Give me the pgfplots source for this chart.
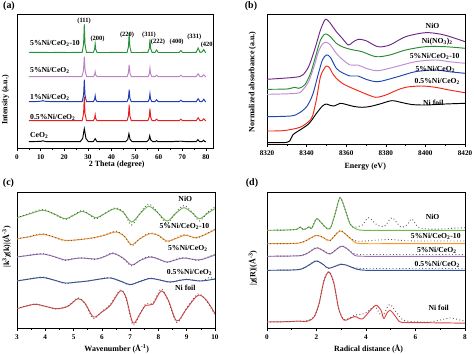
\documentclass[border=0pt]{standalone}
\usepackage{fontspec}
\setmainfont{Liberation Serif}
\usepackage{pgfplots}
\pgfplotsset{compat=1.18}
\definecolor{ag}{RGB}{40,145,60}
\definecolor{av}{RGB}{190,130,200}
\definecolor{ab}{RGB}{30,60,180}
\definecolor{ar}{RGB}{230,30,30}
\definecolor{bp}{RGB}{110,40,140}
\definecolor{bg}{RGB}{40,140,50}
\definecolor{bv}{RGB}{190,140,210}
\definecolor{bb}{RGB}{30,70,180}
\definecolor{br}{RGB}{240,40,20}
\definecolor{cg}{RGB}{110,185,80}
\definecolor{co}{RGB}{250,150,40}
\definecolor{cv}{RGB}{160,110,190}
\definecolor{cb}{RGB}{50,80,160}
\definecolor{cr}{RGB}{225,70,70}
\pgfplotsset{
 panel/.style={scale only axis, anchor=south west,
   axis line style={line width=0.8pt}, ytick=\empty, xtick pos=bottom,
   tick align=outside, major tick length=3bp, minor tick length=1.6bp,
   minor x tick num=1, tick style={line width=0.6pt, black},
   tick label style={font=\fontsize{7.2}{8}\selectfont\bfseries},
   label style={font=\fontsize{8}{9}\selectfont\bfseries},
   /pgf/number format/assume math mode=true,
   /pgf/number format/set thousands separator={},
   every axis plot/.append style={line width=0.95pt}},
 dots/.style={black!65, line width=0.9pt, dash pattern=on 0.9pt off 2.4pt, smooth}
}
\tikzset{lbl/.style={font=\fontsize{7.7}{8}\selectfont\bfseries, inner sep=0pt},
 pk/.style={font=\fontsize{6.5}{7}\selectfont\bfseries, inner sep=0pt},
 plet/.style={font=\fontsize{10}{11}\selectfont\bfseries, inner sep=0pt}}
\begin{document}
\begin{tikzpicture}
\path[use as bounding box] (0,0) rectangle (474bp,354bp);
% ---------------- (a)
\begin{axis}[panel, at={(17bp,206bp)}, width=196bp, height=134bp,
  xmin=0, xmax=83, ymin=4, ymax=138, xtick={0,10,...,80},
  xlabel={2 Theta (degree)}, ylabel={Intensity (a.u.)},
  xlabel style={at={(axis description cs:0.509,-0.127)}, anchor=center},
  ylabel style={at={(axis description cs:-0.059,0.358)}, anchor=center}]
\addplot[black] coordinates {(5,10.3)(8,10.5)(10,10.6)(11,11.2)(12,10.5)(15,10.3)(20,10.4)(24,10.3)(26.8,10.4)(27.8,13.5)(28.5,23.3)(29.2,13.5)(30.2,10.4)(32.3,10.3)(33.1,13.3)(33.9,10.3)(38,10.3)(42,10.4)(46,10.3)(46.9,12.5)(47.4,18.3)(47.9,12.5)(48.8,10.3)(52,10.3)(54.9,10.3)(55.8,12.2)(56.2,16.3)(56.6,12.2)(57.5,10.3)(58.5,10.3)(59.1,11.3)(59.7,10.3)(65,10.3)(69.4,10.8)(72,10.3)(75.9,10.4)(76.6,12.3)(77.3,10.4)(78.4,10.4)(79,11.8)(79.6,10.3)(80,10.3)};
\addplot[ar] coordinates {(5,31.3)(9,31.4)(13,31.3)(18,31.4)(23,31.3)(27.6,31.4)(28.2,38.5)(28.5,55.3)(28.8,38.5)(29.4,31.4)(32.3,31.3)(32.85,33.4)(33.1,37.3)(33.35,33.4)(33.9,31.3)(40,31.3)(46.6,31.3)(47.2,36.1)(47.5,47.3)(47.8,36.1)(48.4,31.3)(52,31.4)(55.4,31.3)(56.0,34.9)(56.3,43.3)(56.6,34.9)(57.2,31.3)(58.4,31.3)(59.1,32.8)(59.8,31.3)(65,31.3)(68.7,31.3)(69.4,32.8)(70.1,31.3)(74,31.3)(75.9,31.3)(76.7,34.3)(77.5,31.3)(78.4,31.5)(79.1,33.3)(79.8,31.3)(80,31.3)};
\addplot[ab] coordinates {(5,50.3)(8,50.4)(10.5,50.9)(11,51.5)(11.5,50.8)(15,50.3)(20,50.4)(25,50.3)(27.6,50.4)(28.2,56.9)(28.5,72.3)(28.8,56.9)(29.4,50.4)(32.3,50.3)(32.85,52.4)(33.1,56.3)(33.35,52.4)(33.9,50.3)(40,50.3)(46.6,50.3)(47.2,53.9)(47.5,62.3)(47.8,53.9)(48.4,50.3)(52,50.4)(55.5,50.3)(56.05,53.1)(56.3,58.3)(56.55,53.1)(57.1,50.3)(58.4,50.3)(59.1,52.3)(59.8,50.3)(65,50.3)(68.7,50.3)(69.4,51.8)(70.1,50.3)(74,50.3)(75.9,50.3)(76.7,53.3)(77.5,50.3)(78.4,50.5)(79.1,52.8)(79.8,50.3)(80,50.3)};
\addplot[av] coordinates {(5,75.3)(10,75.4)(15,75.3)(20,75.4)(25,75.3)(27.5,75.4)(28.15,81.3)(28.5,95.3)(28.85,81.3)(29.5,75.4)(32.3,75.3)(32.85,77.1)(33.1,80.3)(33.35,77.1)(33.9,75.3)(40,75.3)(46.6,75.3)(47.15,78.9)(47.5,87.3)(47.85,78.9)(48.4,75.3)(52,75.4)(55.5,75.3)(56.05,78.3)(56.3,83.8)(56.55,78.3)(57.1,75.3)(58.4,75.3)(59.1,76.8)(59.8,75.3)(65,75.3)(68.7,75.3)(69.4,76.8)(70.1,75.3)(74,75.3)(75.9,75.3)(76.7,78.3)(77.5,75.3)(78.4,75.5)(79.1,77.3)(79.8,75.3)(80,75.3)};
\addplot[ag] coordinates {(5,99.5)(8,99.7)(11,99.6)(14,99.5)(18,99.6)(22,99.5)(26,99.6)(27.6,99.6)(28.2,107.9)(28.5,127.5)(28.8,107.9)(29.4,99.6)(32.3,99.5)(32.85,102.7)(33.1,108.5)(33.35,102.7)(33.9,99.5)(38,99.5)(42,99.6)(46.6,99.5)(47.2,105.2)(47.5,118.5)(47.8,105.2)(48.4,99.5)(52,99.5)(55.4,99.6)(56.0,103.4)(56.3,112.5)(56.6,103.4)(57.2,99.6)(58.4,99.5)(59.1,102)(59.8,99.5)(64,99.5)(68.7,99.5)(69.4,101.5)(70.1,99.5)(74,99.5)(75.9,99.6)(76.7,104)(77.5,99.6)(78.4,100)(79.1,102.5)(79.8,99.6)(80,99.5)};
\node[lbl, anchor=west] at (axis cs:5.5,108.7) {5\%Ni/CeO\textsubscript{2}-10};
\node[lbl, anchor=west] at (axis cs:5.5,82) {5\%Ni/CeO\textsubscript{2}};
\node[lbl, anchor=west] at (axis cs:5.5,54.7) {1\%Ni/CeO\textsubscript{2}};
\node[lbl, anchor=west] at (axis cs:5.5,34.7) {0.5\%Ni/CeO\textsubscript{2}};
\node[lbl, anchor=west] at (axis cs:5.5,17) {CeO\textsubscript{2}};
\node[pk] at (axis cs:28.4,131) {(111)};
\node[pk] at (axis cs:34.1,112.7) {(200)};
\node[pk] at (axis cs:46.6,117) {(220)};
\node[pk] at (axis cs:55.9,117) {(311)};
\node[pk] at (axis cs:59.7,109.7) {(222)};
\node[pk] at (axis cs:67.6,109.7) {(400)};
\node[pk] at (axis cs:75.1,114.7) {(331)};
\node[pk] at (axis cs:80.8,107) {(420)};
\end{axis}
% ---------------- (b)
\begin{axis}[panel, at={(267bp,210bp)}, width=198bp, height=130bp,
  xmin=8320, xmax=8420, ymin=0, ymax=130, xtick={8320,8340,...,8420},
  xlabel={Energy (eV)}, ylabel={Normalized absorbance (a.u.)},
  xlabel style={at={(axis description cs:0.496,-0.175)}, anchor=center},
  ylabel style={at={(axis description cs:-0.073,0.477)}, anchor=center}]
\addplot[black, smooth] coordinates {(8320,1.3)(8326,1.3)(8330,1.6)(8331.5,3)(8333,9)(8335,12)(8338,15.7)(8341,20)(8343,25)(8345,30.7)(8348,38)(8350,40)(8352,38.5)(8354,38)(8357,40.7)(8360,39.5)(8364,37.5)(8368,36.7)(8372,37.5)(8377,40)(8383,43.3)(8388,41.5)(8393,39.5)(8400,39)(8410,40)(8420,40.7)};
\addplot[br, smooth] coordinates {(8320,13)(8328,13.3)(8335,15.7)(8338,18)(8341,22.3)(8343,28)(8345,45)(8347,67.3)(8349,75.7)(8350,78)(8351.5,76.5)(8353,71)(8355,65.7)(8358,60.7)(8362,56.7)(8366,53.3)(8370,50)(8375,46.7)(8380,49)(8385,53.3)(8390,56.7)(8398,58)(8405,56.7)(8412,54)(8420,51.3)};
\addplot[bb, smooth] coordinates {(8320,27.3)(8332,28)(8336,30.7)(8340,37.3)(8343,49)(8346,70.7)(8348,84)(8350,89)(8352,86.7)(8355,75.7)(8358,71.3)(8362,68)(8366,68)(8370,64.7)(8376,62.3)(8385,66.7)(8395,72.3)(8405,74)(8412,72.3)(8420,70.7)};
\addplot[bv, smooth] coordinates {(8320,49.7)(8335,50.7)(8338,54)(8341,62.3)(8344,79)(8346,92.3)(8348,100)(8350,101.7)(8352,99)(8355,90.7)(8358,84.7)(8362,79)(8366,79)(8370,75.7)(8376,73.3)(8385,77.3)(8395,82.3)(8405,84)(8412,82.3)(8420,80.7)};
\addplot[bg, smooth] coordinates {(8320,54.7)(8330,55)(8334,56.7)(8336,55.7)(8339,59)(8342,70.7)(8345,90.7)(8347,104)(8349,109.7)(8350,110)(8352,107.3)(8355,100.7)(8358,97.3)(8362,94.7)(8368,92.3)(8375,87.3)(8382,89)(8390,94)(8400,97.3)(8410,97.3)(8420,95.7)};
\addplot[bp, smooth] coordinates {(8320,64.7)(8334,66.7)(8338,69)(8341,77.3)(8344,94)(8347,114)(8349,123.3)(8350,124.7)(8352,120.7)(8355,112.3)(8358,105.7)(8361,99)(8363,101.3)(8366,104.7)(8370,103.3)(8376,97.3)(8382,99)(8390,107.3)(8400,111.3)(8408,109.7)(8415,105.7)(8420,102.3)};
\node[lbl] at (axis cs:8403.6,118) {NiO};
\node[lbl] at (axis cs:8406,102.3) {Ni(NO\textsubscript{3})\textsubscript{2}};
\node[lbl] at (axis cs:8404.7,87.3) {5\%Ni/CeO\textsubscript{2}-10};
\node[lbl] at (axis cs:8405,74.7) {5\%Ni/CeO\textsubscript{2}};
\node[lbl] at (axis cs:8406,62.3) {0.5\%Ni/CeO\textsubscript{2}};
\node[lbl] at (axis cs:8404,40.7) {Ni foil};
\end{axis}
% ---------------- (c)
\begin{axis}[panel, at={(17bp,26bp)}, width=198bp, height=136bp,
  xmin=3, xmax=10, ymin=1, ymax=137, xtick={3,4,...,10},
  xlabel={Wavenumber (Å\textsuperscript{-1})}, ylabel={|k\textsuperscript{3}χ(k)|(Å\textsuperscript{-3})},
  xlabel style={at={(axis description cs:0.504,-0.152)}, anchor=center},
  ylabel style={at={(axis description cs:-0.052,0.596)}, anchor=center}]
\addplot[cg, smooth] coordinates {(3.0,111.3)(3.4,114.7)(3.9,118.7)(4.3,115.3)(4.7,110.3)(5.0,113.7)(5.3,117.7)(5.55,114.7)(5.8,111.3)(6.1,115.3)(6.45,120.3)(6.75,117)(7.05,107)(7.35,115.3)(7.65,122.7)(7.95,117)(8.3,108)(8.6,115.3)(8.9,121.3)(9.2,116)(9.45,110.3)(9.75,116)(10.0,120.3)};
\addplot[dots] coordinates {(3.0,111)(3.4,115.2)(3.9,119.5)(4.3,115)(4.7,109.5)(5.0,114)(5.3,118.5)(5.55,114.5)(5.8,110)(6.1,115.5)(6.45,121)(6.75,117.5)(7.05,104)(7.35,116)(7.65,125)(7.95,117.5)(8.3,105.5)(8.6,116)(8.9,123.5)(9.2,116.5)(9.45,108)(9.75,117)(10,122)};
\addplot[co, smooth] coordinates {(3.0,90.3)(3.4,92)(3.9,94.7)(4.3,92)(4.7,88.7)(5.2,89.3)(5.7,91.3)(6.1,93.7)(6.5,97)(6.8,92.7)(7.05,84.3)(7.35,90.3)(7.7,95.3)(8.0,93.7)(8.3,88)(8.6,90.3)(8.95,93.7)(9.3,91.3)(9.6,93.7)(10.0,99.3)};
\addplot[dots] coordinates {(3.0,90)(3.4,92.3)(3.9,95.2)(4.3,92)(4.7,88.2)(5.2,89.5)(5.7,91)(6.1,94.2)(6.5,97.8)(6.8,92.5)(7.05,83.3)(7.35,90.5)(7.7,96)(8.0,93.5)(8.3,87.2)(8.6,90.8)(8.95,94.5)(9.3,90.8)(9.6,94)(10.0,100)};
\addplot[cv, smooth] coordinates {(3.0,72)(3.4,73.5)(3.9,75)(4.3,72.5)(4.7,69)(5.0,70.2)(5.3,71)(5.8,70)(6.1,72.5)(6.4,75.5)(6.75,71)(7.05,64)(7.35,68.5)(7.7,72)(8.0,70)(8.3,67)(8.6,69)(8.9,71)(9.4,69)(9.7,71)(10.0,74)};
\addplot[dots] coordinates {(3.0,72)(3.4,73.8)(3.9,75.5)(4.3,72.3)(4.7,68.5)(5.0,70.5)(5.3,71.2)(5.8,69.5)(6.1,72.8)(6.4,76.2)(6.75,70.5)(7.05,63.2)(7.35,68.8)(7.7,72.8)(8.0,69.8)(8.3,66.5)(8.6,69.5)(8.9,71.5)(9.4,68.5)(9.7,71.5)(10.0,75)};
\addplot[cb, smooth] coordinates {(3.0,48)(3.4,49.8)(3.9,51.5)(4.3,49)(4.7,46)(5.1,46.8)(5.5,48)(5.9,49.8)(6.3,51)(6.65,48)(7.0,44.5)(7.35,47.5)(7.7,50.5)(8.05,49)(8.4,47)(8.7,48.3)(9.0,49.5)(9.5,48)(10.0,50)};
\addplot[dots] coordinates {(3.0,48)(3.4,50)(3.9,52)(4.3,49)(4.7,45.5)(5.1,47)(5.5,48)(5.9,50)(6.3,51.5)(6.65,47.5)(7.0,44)(7.35,47.8)(7.7,51)(8.05,49)(8.4,46.5)(8.7,48.5)(9.0,50)(9.5,48)(9.8,51.5)(10.0,50)};
\addplot[cr, smooth] coordinates {(3.0,20.3)(3.3,22.7)(3.65,24.7)(4.0,22.7)(4.4,20.3)(4.8,22.7)(5.15,30.3)(5.4,26)(5.7,12)(6.0,17)(6.3,23.7)(6.65,38)(6.85,32)(7.1,6)(7.35,15.3)(7.55,23.7)(7.8,24.7)(8.1,38)(8.35,28.7)(8.65,8)(9.0,20.3)(9.4,33.7)(9.7,28.7)(10.0,15.3)};
\addplot[dots] coordinates {(3.0,20.5)(3.3,23)(3.65,25)(4.0,22.5)(4.4,20)(4.8,23)(5.15,31)(5.4,25.5)(5.7,10.5)(6.0,17.5)(6.3,24.5)(6.65,39)(6.85,31)(7.1,4)(7.35,15)(7.55,25)(7.8,26)(8.1,40)(8.35,28)(8.65,6.5)(9.0,21)(9.4,35)(9.7,28)(10.0,14)};
\node[lbl] at (axis cs:8.95,130) {NiO};
\node[lbl] at (axis cs:8.92,102.3) {5\%Ni/CeO\textsubscript{2}-10};
\node[lbl] at (axis cs:9.04,80.7) {5\%Ni/CeO\textsubscript{2}};
\node[lbl] at (axis cs:9.1,56.7) {0.5\%Ni/CeO\textsubscript{2}};
\node[lbl] at (axis cs:8.95,40.7) {Ni foil};
\end{axis}
% ---------------- (d)
\begin{axis}[panel, at={(267bp,26bp)}, width=198bp, height=136bp,
  xmin=0, xmax=8, ymin=1, ymax=137, xtick={0,2,...,8},
  xlabel={Radical distance (Å)}, ylabel={|χ(R)|(Å\textsuperscript{-3})},
  xlabel style={at={(axis description cs:0.513,-0.152)}, anchor=center},
  ylabel style={at={(axis description cs:-0.071,0.44)}, anchor=center}]
\addplot[cg, smooth] coordinates {(0,98.7)(0.8,99)(1.2,99.7)(1.35,102)(1.45,99.5)(1.6,100.5)(1.7,102.3)(1.8,100.5)(2.0,110.3)(2.15,107.5)(2.35,102)(2.55,100.3)(2.75,115)(2.95,131.3)(3.15,120)(3.35,105.3)(3.6,100)(3.9,98.7)(5,98.7)(6,98.7)(7,98.7)(8,98.7)};
\addplot[dots] coordinates {(0,98.7)(0.8,99)(1.2,99.7)(1.35,102)(1.45,99.5)(1.6,100.5)(1.7,102.3)(1.8,100.5)(2.0,110.3)(2.15,107.5)(2.35,102)(2.55,100.3)(2.75,115)(2.95,131.3)(3.15,120)(3.35,105.3)(3.5,101.7)(3.85,104)(4.1,111.3)(4.45,104)(4.75,102.7)(5.05,111.3)(5.4,102)(5.65,104)(5.85,110)(6.1,102)(6.5,100)(7.0,100)(7.5,100.7)(8.0,101.3)};
\addplot[co, smooth] coordinates {(0,85.3)(1.0,85.5)(1.3,86)(1.55,88)(2.0,93.7)(2.3,91)(2.55,88.5)(2.95,98)(3.3,92)(3.6,86)(4.0,85.3)(5,85.3)(6,85.3)(7,85.3)(8,85.3)};
\addplot[dots] coordinates {(0,85.3)(1.0,85.5)(1.3,86)(1.55,88)(2.0,93.7)(2.3,91)(2.55,88.5)(2.95,98.5)(3.3,92)(3.6,88)(4.0,88)(4.5,89)(5.0,89.5)(5.5,88.5)(6,88)(7,88)(8,88)};
\addplot[cv, smooth] coordinates {(0,72.7)(1.0,73)(1.4,73.5)(1.65,76)(2.0,81)(2.3,78)(2.55,75)(3.0,82.7)(3.3,79)(3.55,73.5)(4.0,72.7)(5,72.7)(6,72.7)(7,72.7)(8,72.7)};
\addplot[dots] coordinates {(0,72.7)(1.0,73)(1.4,73.5)(1.65,76)(2.0,81.5)(2.3,78)(2.55,75)(3.0,83)(3.3,79)(3.55,75)(4.0,74.5)(5,74.5)(6,74.5)(7,74.5)(8,74.5)};
\addplot[cb, smooth] coordinates {(0,58.7)(1.0,59)(1.4,60)(1.7,64)(2.0,68)(2.3,64)(2.5,60.7)(3.0,64.7)(3.3,63)(3.6,60)(4.0,58.7)(5,58.7)(6,58.7)(7,58.7)(8,58.7)};
\addplot[dots] coordinates {(0,58.7)(1.0,59)(1.4,60)(1.7,64)(2.0,68.3)(2.3,64)(2.5,60.7)(3.0,65)(3.3,63)(3.6,61)(4.0,60.5)(5,60.5)(6,60.5)(7,60.5)(8,60.5)};
\addplot[cr, smooth] coordinates {(0,7)(0.6,7.2)(1.0,7.5)(1.3,8)(1.5,7.5)(1.7,8.3)(1.9,12)(2.1,25)(2.3,48)(2.5,57)(2.7,46)(2.9,20)(3.1,9)(3.3,10)(3.55,12.5)(3.85,10)(4.15,18)(4.4,23.7)(4.6,19)(4.72,10.5)(4.85,16)(4.98,18.7)(5.15,14)(5.35,7.5)(5.6,6.5)(6.5,6.3)(7.5,6)(8,5.8)};
\addplot[dots] coordinates {(0,7)(1.0,7.5)(1.5,7.8)(1.9,12)(2.1,25)(2.3,48.5)(2.5,57.5)(2.7,46)(2.9,20)(3.1,9.5)(3.3,10.5)(3.55,14)(3.8,14.5)(4.05,17)(4.35,22.5)(4.65,13)(4.95,24.5)(5.2,17.5)(5.5,9)(6.0,7.2)(6.6,7)(7.0,9)(7.4,11)(7.8,9)(8,8)};
\node[lbl] at (axis cs:6.69,112.3) {NiO};
\node[lbl] at (axis cs:6.82,92.3) {5\%Ni/CeO\textsubscript{2}-10};
\node[lbl] at (axis cs:6.86,79) {5\%Ni/CeO\textsubscript{2}};
\node[lbl] at (axis cs:6.88,64.7) {0.5\%Ni/CeO\textsubscript{2}};
\node[lbl] at (axis cs:6.94,20.7) {Ni foil};
\end{axis}
\node[plet] at (9bp,348bp) {(a)};
\node[plet] at (251bp,348bp) {(b)};
\node[plet] at (8.5bp,171bp) {(c)};
\node[plet] at (252bp,171bp) {(d)};
\end{tikzpicture}
\end{document}
